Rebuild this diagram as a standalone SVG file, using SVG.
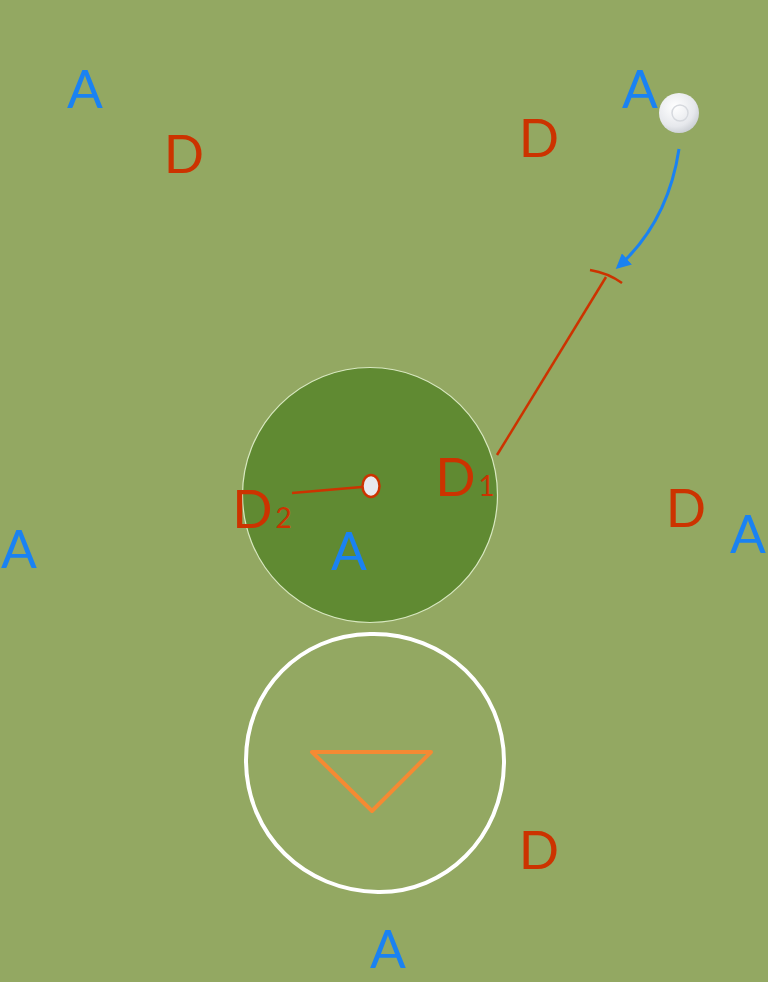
<svg xmlns="http://www.w3.org/2000/svg" width="768" height="982" viewBox="0 0 768 982">
<style>
.a{fill:#1a82f2;font-family:Lato,"Noto Sans",sans-serif;font-size:53px;text-anchor:middle}
.d{fill:#cc3300;font-family:Lato,"Noto Sans",sans-serif;font-size:53px;text-anchor:middle}
.sub{font-size:28px;text-anchor:start}
</style>
<defs>
<marker id="arr" viewBox="0 0 10 10" refX="8" refY="5" markerWidth="5" markerHeight="5" orient="auto" markerUnits="strokeWidth">
<path d="M0,0 L10,5 L0,10 z" fill="#1a82f2"/>
</marker>
<radialGradient id="ball" cx="0.4" cy="0.35" r="0.7">
<stop offset="0" stop-color="#ffffff"/>
<stop offset="0.7" stop-color="#e6e8ec"/>
<stop offset="1" stop-color="#c8ccd2"/>
</radialGradient>
</defs>
<rect width="768" height="982" fill="#93a862"/>
<g id="zone-top">
<circle cx="370" cy="495" r="127.5" fill="#608a32" stroke="#d8e8c0" stroke-width="1.2"/>
</g>
<g id="zone-bottom">
<path d="M370,634 C445,632 505,690 504,763 C503,838 445,893 378,892 C305,891 246,835 246,760 C246,690 300,635 370,634 Z" fill="none" stroke="#ffffff" stroke-width="4"/>
</g>
<g id="cone">
<polygon points="312,752 431,752 372,811" fill="none" stroke="#f58a33" stroke-width="4" stroke-linejoin="round"/>
</g>
<g id="connectors">
<path d="M679,149 Q668,222 618,267" fill="none" stroke="#1a82f2" stroke-width="3" marker-end="url(#arr)"/>
<line x1="497" y1="455" x2="606" y2="277" stroke="#cc3300" stroke-width="2.5"/>
<path d="M590,270 Q608,273 622,283" fill="none" stroke="#cc3300" stroke-width="2.5"/>
<line x1="292" y1="493" x2="362" y2="487" stroke="#cc3300" stroke-width="2.5"/>
</g>
<g id="ball-node">
<circle cx="679" cy="113" r="20" fill="url(#ball)"/>
<circle cx="680" cy="113" r="8" fill="none" stroke="#d6d9de" stroke-width="1.5"/>
</g>
<g id="marker-node">
<ellipse cx="371" cy="486" rx="8.5" ry="11" fill="#e8e8ee" stroke="#cc3300" stroke-width="2.5"/>
</g>
<g id="players">
<text class="a" x="85" y="108">A</text>
<text class="d" x="184" y="173">D</text>
<text class="d" x="539" y="157">D</text>
<text class="a" x="640" y="108">A</text>
<text class="d" x="465" y="496">D<tspan class="sub" dx="3">1</tspan></text>
<text class="d" x="262" y="528">D<tspan class="sub" dx="3">2</tspan></text>
<text class="a" x="349" y="570">A</text>
<text class="a" x="19" y="568">A</text>
<text class="d" x="686" y="527">D</text>
<text class="a" x="748" y="553">A</text>
<text class="d" x="539" y="869">D</text>
<text class="a" x="388" y="968">A</text>
</g>
</svg>
